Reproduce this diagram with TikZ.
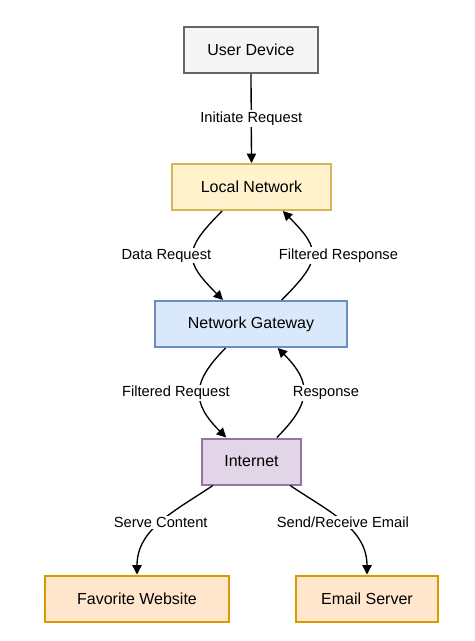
\documentclass[tikz,border=0pt]{standalone}
\usepackage{fontspec}
\setmainfont{Liberation Sans}
\usepackage{xcolor}
\usetikzlibrary{arrows.meta}

\definecolor{devfill}{HTML}{F5F5F5}
\definecolor{devline}{HTML}{666666}
\definecolor{lanfill}{HTML}{FFF2CC}
\definecolor{lanline}{HTML}{D6B656}
\definecolor{gwfill}{HTML}{DAE8FC}
\definecolor{gwline}{HTML}{6C8EBF}
\definecolor{netfill}{HTML}{E1D5E7}
\definecolor{netline}{HTML}{9673A6}
\definecolor{endfill}{HTML}{FFE6CC}
\definecolor{endline}{HTML}{D79B00}

\begin{document}
\begin{tikzpicture}[x=0.75pt, y=-0.75pt,
  box/.style={draw, line width=1.5pt, minimum height=34.5pt, inner sep=0pt, font=\fontsize{12}{14}\selectfont},
  lbl/.style={fill=white, inner sep=1pt, font=\fontsize{11}{13}\selectfont},
  link/.style={line width=1pt, -{Triangle[length=7pt,width=7pt]}}]
\useasboundingbox (0,0) rectangle (474,641);

\node[box, draw=devline, fill=devfill, minimum width=100.5pt] (dev) at (251,50) {User Device};
\node[box, draw=lanline, fill=lanfill, minimum width=119.25pt] (lan) at (251.5,187) {Local Network};
\node[box, draw=gwline, fill=gwfill, minimum width=144pt] (gw) at (251,324) {Network Gateway};
\node[box, draw=netline, fill=netfill, minimum width=74.25pt] (inet) at (251.5,461.5) {Internet};
\node[box, draw=endline, fill=endfill, minimum width=138pt] (web) at (137,598.5) {Favorite Website};
\node[box, draw=endline, fill=endfill, minimum width=106.5pt] (mail) at (367,598.5) {Email Server};

\draw[link] (dev.south) -- node[lbl] (initlbl) {Initiate Request} (lan.north);

\draw[link] ([xshift=-22pt]lan.south) to[out=225, in=135, looseness=1.6]
  node[lbl, xshift=-20pt] (datalbl) {Data Request} ([xshift=-21pt]gw.north);
\draw[link] ([xshift=23pt]gw.north) to[out=45, in=-45, looseness=1.6]
  node[lbl, xshift=20pt] (fresplbl) {Filtered Response} ([xshift=23.5pt]lan.south);

\draw[link] ([xshift=-19pt]gw.south) to[out=225, in=135, looseness=1.4]
  node[lbl, xshift=-18pt] (freqlbl) {Filtered Request} ([xshift=-19pt]inet.north);
\draw[link] ([xshift=19pt]inet.north) to[out=45, in=-45, looseness=1.4]
  node[lbl, xshift=17pt] (resplbl) {Response} ([xshift=20pt]gw.south);

\draw[link] ([xshift=-29pt]inet.south) to[out=214, in=90]
  node[lbl] (servelbl) {Serve Content} (web.north);
\draw[link] ([xshift=29pt]inet.south) to[out=-34, in=90]
  node[lbl] (maillbl) {Send/Receive Email} (mail.north);

\end{tikzpicture}
\end{document}
